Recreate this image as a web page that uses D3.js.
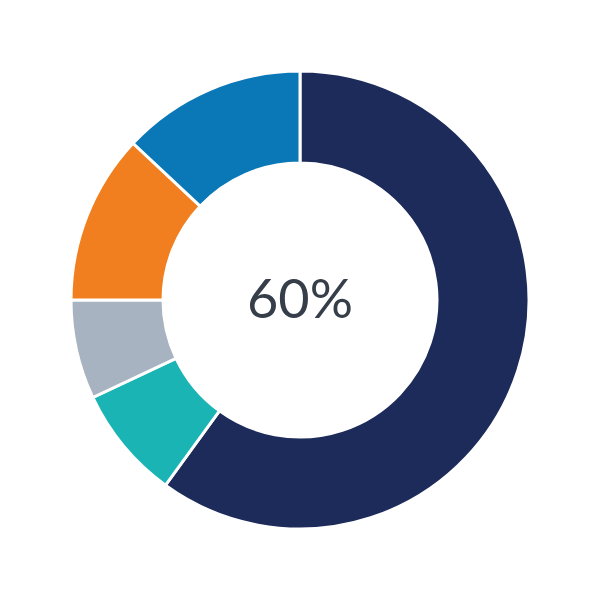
<!DOCTYPE html>
<html>
<head>
<meta charset="utf-8">
<script src="https://cdn.jsdelivr.net/npm/d3@7"></script>
<style>
body { margin: 0; background: #fff; }
</style>
</head>
<body>
<svg width="600" height="600"></svg>
<script>
var categories = ['Navy', 'Teal', 'Gray', 'Orange', 'Blue'];
var values = [60, 8, 7, 12, 13];
var colors = ['#1c2b5a', '#1bb4b4', '#a8b3c1', '#f17f1f', '#0a77b7'];
var centerLabel = '60%';

var svg = d3.select('svg');
var width = +svg.attr('width');
var height = +svg.attr('height');

var cx = 300, cy = 300;
var outerR = 229, innerR = 137;

var pie = d3.pie().sort(null).value(function(d) { return d; });
var arc = d3.arc().innerRadius(innerR).outerRadius(outerR);

var g = svg.append('g').attr('transform', 'translate(' + [cx, cy] + ')');

g.selectAll('path')
    .data(pie(values))
    .enter().append('path')
    .attr('d', arc)
    .attr('fill', function(d, i) { return colors[i]; })
    .attr('stroke', '#fff')
    .attr('stroke-width', 3);

g.append('text')
    .attr('text-anchor', 'middle')
    .attr('y', 18)
    .attr('font-family', 'Lato')
    .attr('font-weight', 400)
    .attr('font-size', 54)
    .attr('fill', '#363e4a')
    .text(centerLabel);
</script>
</body>
</html>
